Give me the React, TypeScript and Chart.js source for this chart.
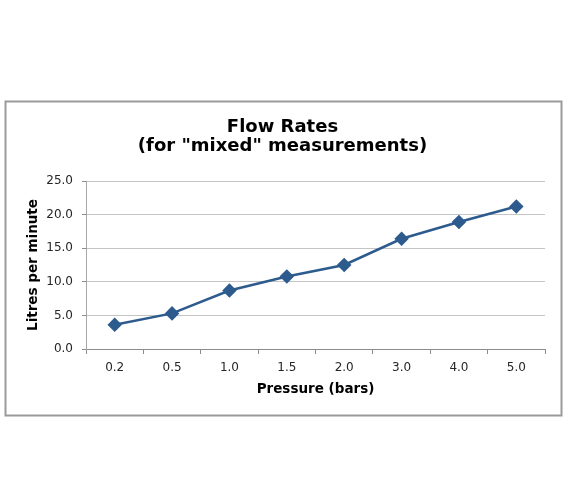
import React, { useEffect, useRef } from "react";
import { Chart, registerables } from "chart.js";

Chart.register(...registerables);

const pressureLabels: string[] = ["0.2", "0.5", "1.0", "1.5", "2.0", "3.0", "4.0", "5.0"];
const flowRates: number[] = [3.6, 5.3, 8.7, 10.8, 12.5, 16.4, 18.9, 21.2];
const titleLines: string[] = ["Flow Rates", '(for "mixed" measurements)'];
const yAxisTitle = "Litres per minute";
const xAxisTitle = "Pressure (bars)";
const yMin = 0;
const yMax = 25;
const yStep = 5;

const FONT = "'DejaVu Sans', Verdana, sans-serif";

const frameBorder = {
  id: "frameBorder",
  beforeDraw(chart: any) {
    const ctx = chart.ctx;
    ctx.save();
    ctx.strokeStyle = "#9a9a9a";
    ctx.lineWidth = 2;
    ctx.strokeRect(5.5, 101.5, 556, 314);
    ctx.restore();
  },
};

export default function App() {
  const canvasRef = useRef<HTMLCanvasElement | null>(null);

  useEffect(() => {
    if (!canvasRef.current) return;
    const chart = new Chart(canvasRef.current, {
      type: "line",
      data: {
        labels: pressureLabels,
        datasets: [
          {
            label: "Flow rate",
            data: flowRates,
            borderColor: "#2d5b8d",
            backgroundColor: "#2d5b8d",
            borderWidth: 2.5,
            pointStyle: "rectRot",
            pointRadius: 5.5,
            pointBackgroundColor: "#2d5b8d",
            pointBorderColor: "#2d5b8d",
            tension: 0,
          },
        ],
      },
      options: {
        animation: false,
        responsive: false,
        devicePixelRatio: 1,
        layout: { padding: { left: 20, right: 25, top: 110, bottom: 105 } },
        plugins: {
          legend: { display: false },
          tooltip: { enabled: false },
          title: {
            display: true,
            text: titleLines,
            color: "#000",
            font: { family: FONT, size: 18, weight: "bold", lineHeight: 19 / 18 },
            padding: { top: 7.5, bottom: 25.5 },
          },
        },
        scales: {
          x: {
            type: "category",
            offset: true,
            afterFit: (scale: any) => {
              scale.height = 50;
            },
            grid: {
              display: true,
              drawOnChartArea: false,
              drawTicks: true,
              offset: true,
              tickLength: 5,
              tickColor: "#8c8c8c",
              color: "#8c8c8c",
            },
            border: { display: true, color: "#8c8c8c", width: 1 },
            ticks: {
              color: "#262626",
              padding: 7,
              font: { family: FONT, size: 12 },
              maxRotation: 0,
            },
            title: {
              display: true,
              text: xAxisTitle,
              color: "#000",
              font: { family: FONT, size: 13.5, weight: "bold" },
              padding: { top: 0, bottom: 1 },
            },
          },
          y: {
            type: "linear",
            min: yMin,
            max: yMax,
            afterFit: (scale: any) => {
              scale.width = 66;
            },
            grid: {
              display: true,
              drawOnChartArea: true,
              drawTicks: true,
              tickLength: 4,
              color: "#c4c4c4",
              tickColor: "#8c8c8c",
            },
            border: { display: true, color: "#a6a6a6", width: 1 },
            ticks: {
              stepSize: yStep,
              color: "#262626",
              padding: 9,
              font: { family: FONT, size: 12 },
              callback: (v: any) => Number(v).toFixed(1),
            },
            title: {
              display: true,
              text: yAxisTitle,
              color: "#000",
              font: { family: FONT, size: 13.5, weight: "bold" },
              padding: { top: 5, bottom: 0 },
            },
          },
        },
      },
      plugins: [frameBorder],
    } as any);
    return () => chart.destroy();
  }, []);

  return (
    <div style={{ position: "absolute", left: 0, top: 0, width: 570, height: 504, background: "#fff" }}>
      <canvas ref={canvasRef} width={570} height={504} style={{ width: 570, height: 504, display: "block" }} />
    </div>
  );
}
